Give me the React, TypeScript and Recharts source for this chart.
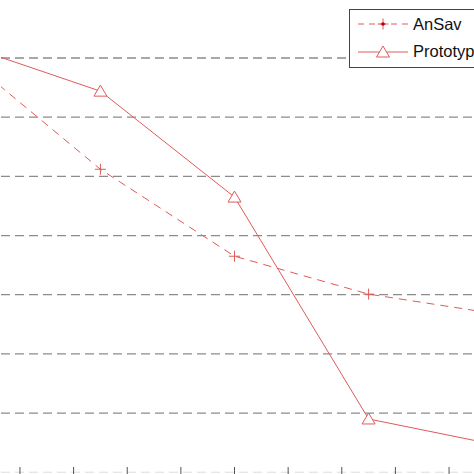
import React from 'react';
import { LineChart, Line, XAxis, YAxis, CartesianGrid, ReferenceLine } from 'recharts';

const xValues = [0, 5, 10, 15, 20];
const ansavValues = [7.0, 5.12, 3.65, 3.01, 2.66];
const prototypeValues = [7.21, 6.44, 4.65, 0.9, 0.44];
const xTicks = [2, 4, 6, 8, 10, 12, 14, 16, 18];
const yTicks = [1, 2, 3, 4, 5, 6, 7];

const data = xValues.map((x, i) => ({ x, ansav: ansavValues[i], prototype: prototypeValues[i] }));

const RED = '#e05a5a';
const FONT = "'Liberation Sans', Arial, sans-serif";

const PlusDot = ({ cx, cy }: any) => {
  if (cx == null || cy == null) return null;
  return (
    <g stroke={RED} strokeWidth={1}>
      <line x1={cx - 5.5} y1={cy} x2={cx + 5.5} y2={cy} />
      <line x1={cx} y1={cy - 5.5} x2={cx} y2={cy + 5.5} />
    </g>
  );
};

const TriangleDot = ({ cx, cy }: any) => {
  if (cx == null || cy == null) return null;
  return (
    <polygon
      points={`${cx},${cy - 6} ${cx - 6.5},${cy + 5} ${cx + 6.5},${cy + 5}`}
      fill="white"
      stroke={RED}
      strokeWidth={1}
    />
  );
};

const NoTick = () => <g />;

// legend is cut by the right edge in the source image too
const LegendBox = () => (
  <svg width={140} height={60} style={{ display: 'block' }}>
    <rect x={0.5} y={0.5} width={150} height={58} fill="white" stroke="#444" strokeWidth={1} />
    <line x1={9} y1={15} x2={59} y2={15} stroke={RED} strokeDasharray="6 5" />
    <PlusDot cx={34} cy={15} />
    <circle cx={34} cy={15} r={1.8} fill="#c00000" />
    <text x={64} y={21} fontFamily={FONT} fontSize={16.5} fill="#111">AnSav</text>
    <line x1={9} y1={43} x2={59} y2={43} stroke={RED} />
    <TriangleDot cx={34} cy={43} />
    <text x={64} y={48} fontFamily={FONT} fontSize={16.5} fill="#111">Prototype</text>
  </svg>
);

export default function App() {
  return (
    <div style={{ position: 'fixed', left: 0, top: 0, width: 474, height: 474, overflow: 'hidden', background: 'white' }}>
      <div style={{ position: 'absolute', left: 0, top: -4 }}>
        <LineChart width={474} height={480} data={data} margin={{ top: 0, right: 0, bottom: 0, left: 0 }}>
          <CartesianGrid vertical={false} stroke="#8c8c8c" strokeWidth={1.3} strokeDasharray="9 5" />
          <XAxis
            dataKey="x"
            type="number"
            domain={[1.293, 18.93]}
            allowDataOverflow
            ticks={xTicks}
            interval={0}
            mirror
            height={1}
            tick={<NoTick />}
            tickSize={9}
            tickLine={{ stroke: '#555' }}
            axisLine={false}
          />
          <YAxis
            type="number"
            domain={[-0.064, 8.048]}
            allowDataOverflow
            ticks={yTicks}
            interval={0}
            width={1}
            tick={<NoTick />}
            tickLine={false}
            axisLine={false}
          />
          <ReferenceLine y={0} stroke="#dddddd" strokeDasharray="9 5" />
          <Line
            dataKey="ansav"
            stroke={RED}
            strokeWidth={1}
            strokeDasharray="8 6"
            dot={<PlusDot />}
            isAnimationActive={false}
          />
          <Line
            dataKey="prototype"
            stroke={RED}
            strokeWidth={1}
            dot={<TriangleDot />}
            isAnimationActive={false}
          />
        </LineChart>
      </div>
      <div style={{ position: 'absolute', left: 349, top: 9 }}>
        <LegendBox />
      </div>
    </div>
  );
}
